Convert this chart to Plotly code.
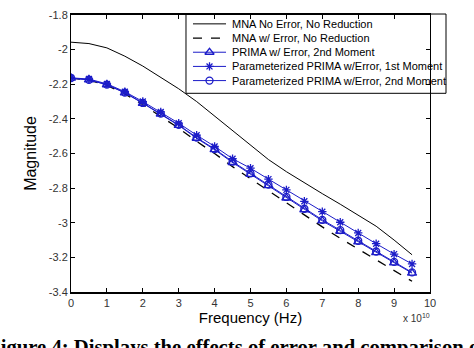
import plotly.graph_objects as go

# Frequency in units of 1e10 Hz
freq = [0, 0.5, 1, 1.5, 2, 2.5, 3, 3.5, 4, 4.5, 5, 5.5, 6, 6.5, 7, 7.5, 8, 8.5, 9, 9.5]

mna_no_error = [-1.957, -1.965, -1.990, -2.038, -2.095, -2.158, -2.226, -2.300, -2.385, -2.470,
                -2.555, -2.635, -2.705, -2.770, -2.832, -2.893, -2.955, -3.020, -3.100, -3.185]
mna_with_error = [-2.165, -2.176, -2.206, -2.256, -2.318, -2.384, -2.454, -2.530, -2.600, -2.676,
                  -2.746, -2.814, -2.888, -2.958, -3.024, -3.090, -3.152, -3.216, -3.278, -3.338]
prima_2nd = [-2.165, -2.175, -2.203, -2.250, -2.310, -2.372, -2.438, -2.512, -2.578, -2.652,
             -2.720, -2.785, -2.857, -2.925, -2.989, -3.049, -3.110, -3.172, -3.232, -3.291]
param_prima_1st = [-2.163, -2.170, -2.198, -2.243, -2.300, -2.360, -2.425, -2.494, -2.559, -2.630,
                   -2.685, -2.748, -2.810, -2.876, -2.936, -2.997, -3.059, -3.121, -3.181, -3.238]
param_prima_2nd = [-2.164, -2.174, -2.202, -2.248, -2.308, -2.370, -2.435, -2.508, -2.574, -2.647,
                   -2.715, -2.780, -2.851, -2.919, -2.983, -3.043, -3.104, -3.166, -3.226, -3.287]

x_ticks = [0, 1, 2, 3, 4, 5, 6, 7, 8, 9, 10]
y_ticks = [-3.4, -3.2, -3.0, -2.8, -2.6, -2.4, -2.2, -2.0, -1.8]
y_tick_text = ["-3.4", "-3.2", "-3", "-2.8", "-2.6", "-2.4", "-2.2", "-2", "-1.8"]

BLUE = "#1c1cc8"
SANS = "Arial, Liberation Sans"

series = [
    dict(name="MNA No Error, No Reduction", y=mna_no_error, mode="lines",
         line=dict(color="black", width=1), marker=None),
    dict(name="MNA w/ Error, No Reduction", y=mna_with_error, mode="lines",
         line=dict(color="black", width=1.3, dash="dash"), marker=None),
    dict(name="PRIMA w/ Error, 2nd Moment", y=prima_2nd, mode="lines+markers",
         line=dict(color=BLUE, width=1),
         marker=dict(symbol="triangle-up-open", size=8, color=BLUE, line=dict(width=1.3))),
    dict(name="Parameterized PRIMA w/Error, 1st Moment", y=param_prima_1st, mode="lines+markers",
         line=dict(color=BLUE, width=1),
         marker=dict(symbol="asterisk-open", size=7, color=BLUE, line=dict(width=1.3, color=BLUE))),
    dict(name="Parameterized PRIMA w/Error, 2nd Moment", y=param_prima_2nd, mode="lines+markers",
         line=dict(color=BLUE, width=1),
         marker=dict(symbol="circle-open", size=7, color=BLUE, line=dict(width=1.3))),
]

fig = go.Figure()
for s in series:
    kw = dict(x=freq, y=s["y"], mode=s["mode"], line=s["line"], name=s["name"], showlegend=False)
    if s["marker"]:
        kw["marker"] = s["marker"]
    fig.add_trace(go.Scatter(**kw))

# Compact boxed legend: white panel under the traces, border on top,
# sample lines/markers on an invisible overlay axis (0..1 over the plot area)
leg_x0, leg_x1 = 0.3203, 1.0446
leg_top, leg_bottom = 1.0035, 0.7173
row_top, row_step = 0.968, 0.0512
sample_x0, sample_x1, label_x = 0.3398, 0.4318, 0.4429
fig.add_shape(type="rect", xref="paper", yref="paper", x0=leg_x0, x1=leg_x1, y0=leg_bottom, y1=leg_top,
              line=dict(width=0), fillcolor="white", layer="below")
fig.add_shape(type="rect", xref="paper", yref="paper", x0=leg_x0, x1=leg_x1, y0=leg_bottom, y1=leg_top,
              line=dict(color="black", width=1), fillcolor="rgba(0,0,0,0)", layer="above")
for i, s in enumerate(series):
    ry = row_top - i * row_step
    fig.add_trace(go.Scatter(x=[sample_x0, sample_x1], y=[ry, ry], mode="lines", line=s["line"],
                             xaxis="x2", yaxis="y2", showlegend=False, hoverinfo="skip"))
    if s["marker"]:
        fig.add_trace(go.Scatter(x=[(sample_x0 + sample_x1) / 2], y=[ry], mode="markers", marker=s["marker"],
                                 xaxis="x2", yaxis="y2", showlegend=False, hoverinfo="skip"))
    fig.add_annotation(xref="paper", yref="paper", x=label_x, y=ry, xanchor="left", yanchor="middle",
                       text=s["name"], showarrow=False, font=dict(family=SANS, size=11, color="black"))

axis_common = dict(showline=True, linecolor="black", mirror="ticks",
                   ticks="inside", ticklen=4, tickcolor="black", showgrid=False, zeroline=False,
                   tickfont=dict(family=SANS, size=11, color="#333"))
fig.update_xaxes(range=[0, 10], tickvals=x_ticks, ticktext=[str(t) for t in x_ticks], linewidth=1.6,
                 title=dict(text="Frequency (Hz)", font=dict(family=SANS, size=15, color="black"), standoff=3),
                 **axis_common)
fig.update_yaxes(range=[-3.4, -1.8], tickvals=y_ticks, ticktext=y_tick_text, linewidth=1,
                 title=dict(text="Magnitude", font=dict(family=SANS, size=16, color="black"), standoff=8),
                 **axis_common)
fig.update_layout(
    xaxis2=dict(overlaying="x", range=[0, 1], visible=False, fixedrange=True),
    yaxis2=dict(overlaying="y", range=[0, 1], visible=False, fixedrange=True),
)

fig.add_annotation(xref="paper", yref="paper", x=0.92, y=-0.065, xanchor="left", yanchor="top",
                   text="x 10<sup>10</sup>", showarrow=False,
                   font=dict(family=SANS, size=10, color="#333"))
fig.add_annotation(xref="paper", yref="paper", x=-0.238, y=-0.151, xanchor="left", yanchor="top",
                   text="<b>Figure 4: Displays the effects of error and comparison of</b>", showarrow=False,
                   font=dict(family="Liberation Serif, Times New Roman", size=20.7, color="black"))

fig.update_layout(
    width=474, height=348,
    margin=dict(l=71, r=44, t=9, b=56),
    plot_bgcolor="rgba(0,0,0,0)", paper_bgcolor="white",
)

fig.write_html("out.html")
